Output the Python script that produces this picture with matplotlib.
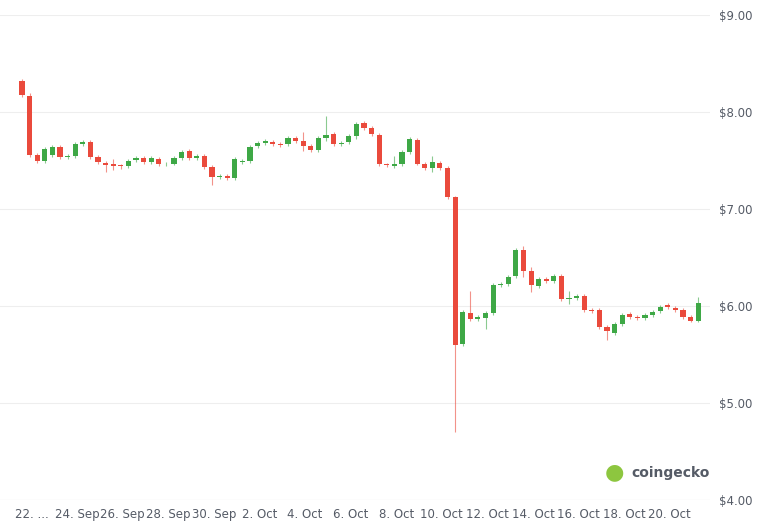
import datetime as dt
import matplotlib
matplotlib.use("Agg")
import matplotlib.pyplot as plt
import matplotlib.dates as mdates
import matplotlib.ticker as mticker

# 8h candles
start = dt.datetime(2024, 9, 21, 14)
opens = [8.32, 8.17, 7.56, 7.50, 7.56, 7.64, 7.54, 7.55, 7.67, 7.69,
         7.54, 7.48, 7.46, 7.45, 7.44, 7.51, 7.53, 7.49, 7.52, 7.46,
         7.47, 7.53, 7.60, 7.53, 7.55, 7.43, 7.33, 7.34, 7.32, 7.49,
         7.50, 7.65, 7.68, 7.69, 7.67, 7.67, 7.73, 7.70, 7.65, 7.61,
         7.73, 7.77, 7.67, 7.69, 7.75, 7.89, 7.84, 7.76, 7.46, 7.44,
         7.46, 7.59, 7.71, 7.47, 7.42, 7.48, 7.42, 7.12, 5.61, 5.93,
         5.87, 5.88, 5.93, 6.22, 6.23, 6.31, 6.58, 6.36, 6.21, 6.28,
         6.26, 6.31, 6.07, 6.08, 6.10, 5.96, 5.96, 5.78, 5.72, 5.81,
         5.92, 5.89, 5.88, 5.91, 5.95, 6.01, 5.98, 5.96, 5.89, 5.85]
closes = [8.18, 7.56, 7.50, 7.62, 7.64, 7.54, 7.55, 7.67, 7.69, 7.54,
          7.49, 7.45, 7.44, 7.44, 7.50, 7.53, 7.49, 7.53, 7.46, 7.47,
          7.53, 7.59, 7.53, 7.55, 7.43, 7.33, 7.34, 7.32, 7.52, 7.50,
          7.64, 7.68, 7.70, 7.67, 7.66, 7.73, 7.70, 7.65, 7.61, 7.73,
          7.76, 7.67, 7.68, 7.75, 7.88, 7.84, 7.77, 7.46, 7.45, 7.46,
          7.59, 7.72, 7.47, 7.42, 7.49, 7.42, 7.12, 5.60, 5.94, 5.87,
          5.89, 5.93, 6.22, 6.23, 6.30, 6.58, 6.36, 6.22, 6.28, 6.26,
          6.31, 6.07, 6.08, 6.10, 5.96, 5.95, 5.78, 5.74, 5.81, 5.91,
          5.89, 5.88, 5.91, 5.94, 5.99, 5.99, 5.96, 5.89, 5.85, 6.03]
# notable wicks: index -> (high, low)
wicks = {1: (8.20, 7.54), 11: (7.50, 7.38), 12: (7.52, 7.40), 13: (7.47, 7.41),
         25: (7.45, 7.25), 37: (7.80, 7.60), 40: (7.96, 7.70), 44: (7.90, 7.72),
         49: (7.55, 7.42), 54: (7.55, 7.38), 57: (7.13, 4.70), 59: (6.16, 5.85),
         61: (5.95, 5.76), 66: (6.62, 6.30), 67: (6.40, 6.14), 72: (6.15, 6.02),
         77: (5.80, 5.65), 89: (6.09, 5.84)}

fig = plt.figure(figsize=(7.68, 5.24), dpi=100)
ax = fig.add_axes([0.0, 0.046, 0.925, 0.925])

green, red = "#3ea846", "#ea4a3c"
step = dt.timedelta(hours=8)
w = step * 0.68
for i, (o, c) in enumerate(zip(opens, closes)):
    t = start + i * step
    col = green if c >= o else red
    hi, lo = wicks.get(i, (max(o, c) + 0.02, min(o, c) - 0.02))
    ax.vlines(t, lo, hi, color=col, linewidth=0.8, alpha=0.6, zorder=2)
    ax.bar(t, abs(c - o) or 0.01, bottom=min(o, c), width=w, color=col, zorder=3)

ax.set_ylim(4, 9)
ax.set_xlim(start - step * 2.9, start + step * 90.6)
ax.yaxis.tick_right()
ax.yaxis.set_major_locator(mticker.MultipleLocator(1))
ax.yaxis.set_major_formatter(mticker.FuncFormatter(lambda v, p: f"${v:.2f}"))
ax.grid(axis="y", color="#eeeeee", linewidth=0.8, zorder=0)
ticks = [dt.datetime(2024, 9, d) for d in (22, 24, 26, 28, 30)] + \
        [dt.datetime(2024, 10, d) for d in range(2, 21, 2)]
ax.set_xticks(ticks)
ax.set_xticklabels(["22. ..."] + [f"{t.day}. {t:%b}" for t in ticks[1:]])
ax.tick_params(axis="both", length=0, labelsize=8.5, colors="#555b66", pad=6)
for s in ax.spines.values():
    s.set_visible(False)
ax.axhline(4, color="#dddddd", linewidth=0.8)

fig.text(0.800, 0.098, "●", color="#8dc63f", fontsize=16, ha="center", va="center")
fig.text(0.822, 0.098, "coingecko", color="#555b66", fontsize=10, fontweight="bold",
         ha="left", va="center")

fig.savefig("out.png", dpi=100)
